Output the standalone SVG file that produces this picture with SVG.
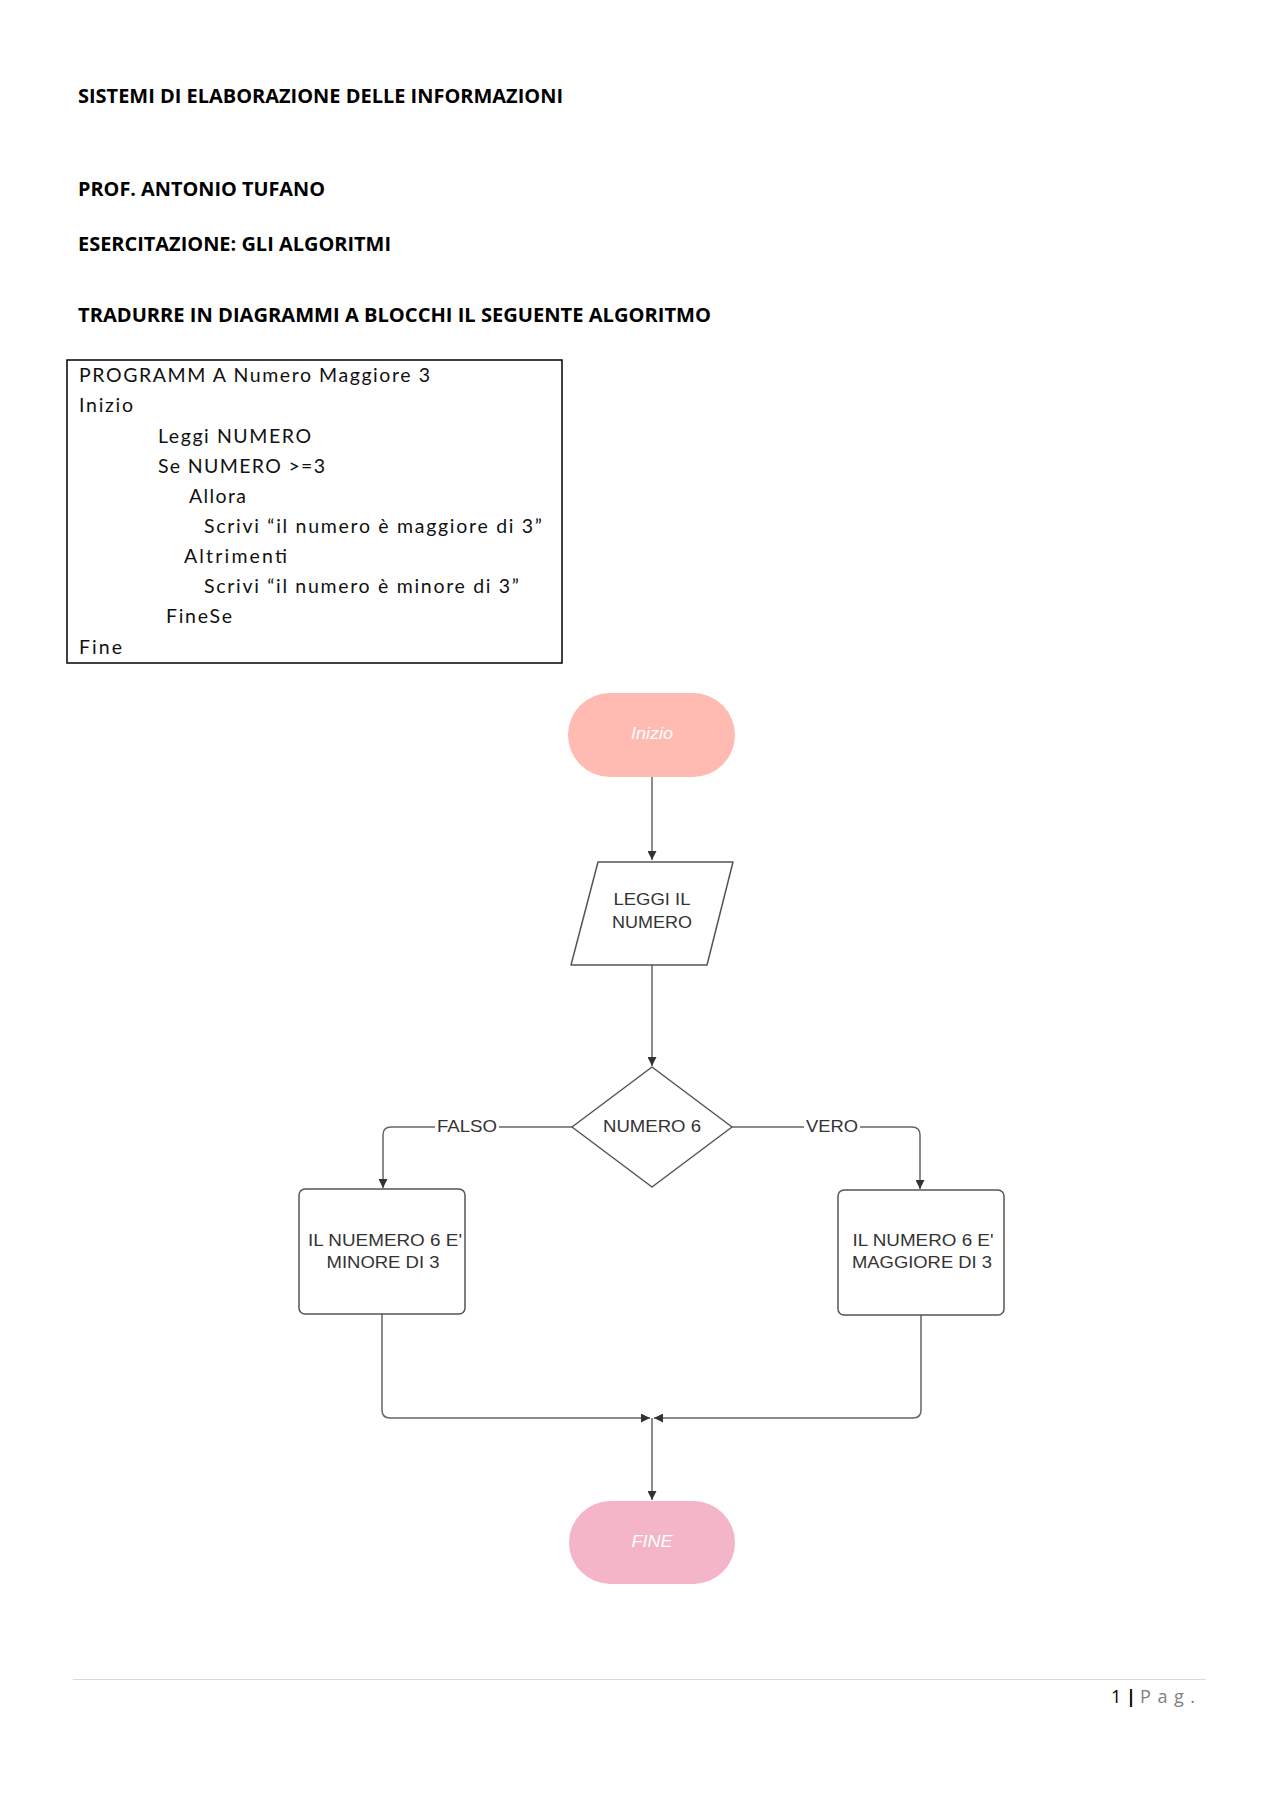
<svg xmlns="http://www.w3.org/2000/svg" width="1280" height="1811" viewBox="0 0 1280 1811">
<defs>
<style>
.h{font-family:"Open Sans","Liberation Sans",sans-serif;font-weight:bold;font-size:19px;fill:#000}
.c{font-family:"Lato","Open Sans",sans-serif;font-size:19.5px;fill:#111}
.f{font-family:"Liberation Sans",Arial,sans-serif;font-size:17px;fill:#333;text-anchor:middle}
.t{font-family:"Liberation Sans",Arial,sans-serif;font-size:17px;font-style:italic;fill:#fff;text-anchor:middle}
.shape{fill:#fff;stroke:#555;stroke-width:1.5;stroke-linejoin:round}
.conn{fill:none;stroke:#666;stroke-width:1.5}
.pg{font-family:"Open Sans","Liberation Sans",sans-serif;font-size:18px}
</style>
<marker id="arr" viewBox="0 0 10 10" refX="10" refY="5" markerWidth="14" markerHeight="9" markerUnits="userSpaceOnUse" orient="auto">
<path d="M0,0 L10,5 L0,10 Z" fill="#333"/>
</marker>
</defs>
<rect width="1280" height="1811" fill="#fff"/>

<g id="header">
<text class="h" x="78" y="103" textLength="485" lengthAdjust="spacingAndGlyphs">SISTEMI DI ELABORAZIONE DELLE INFORMAZIONI</text>
<text class="h" x="78" y="196" textLength="247" lengthAdjust="spacingAndGlyphs">PROF. ANTONIO TUFANO</text>
<text class="h" x="78" y="251" textLength="313" lengthAdjust="spacingAndGlyphs">ESERCITAZIONE: GLI ALGORITMI</text>
<text class="h" x="78" y="322" textLength="633" lengthAdjust="spacingAndGlyphs">TRADURRE IN DIAGRAMMI A BLOCCHI IL SEGUENTE ALGORITMO</text>
</g>

<g id="pseudocode">
<rect x="67" y="360" width="495" height="303" fill="#fff" stroke="#000" stroke-width="1.5"/>
<text class="c" x="79" y="382" textLength="351" lengthAdjust="spacing">PROGRAMM A Numero Maggiore 3</text>
<text class="c" x="79" y="412" textLength="54" lengthAdjust="spacing">Inizio</text>
<text class="c" x="158" y="443" textLength="153" lengthAdjust="spacing">Leggi NUMERO</text>
<text class="c" x="158" y="473" textLength="167" lengthAdjust="spacing">Se NUMERO &gt;=3</text>
<text class="c" x="189" y="503" textLength="57" lengthAdjust="spacing">Allora</text>
<text class="c" x="204" y="533" textLength="338" lengthAdjust="spacing">Scrivi “il numero è maggiore di 3”</text>
<text class="c" x="184" y="563" textLength="103" lengthAdjust="spacing">Altrimenti</text>
<text class="c" x="204" y="593" textLength="315" lengthAdjust="spacing">Scrivi “il numero è minore di 3”</text>
<text class="c" x="166" y="623" textLength="66" lengthAdjust="spacing">FineSe</text>
<text class="c" x="79" y="654" textLength="43" lengthAdjust="spacing">Fine</text>
</g>

<g id="connectors">
<path class="conn" d="M652,777 V860" stroke="#444" marker-end="url(#arr)"/>
<path class="conn" d="M652,965 V1066" marker-end="url(#arr)"/>
<path class="conn" d="M572,1127 H391 Q383,1127 383,1135 V1188" marker-end="url(#arr)"/>
<path class="conn" d="M732,1127 H912 Q920,1127 920,1135 V1189" marker-end="url(#arr)"/>
<path class="conn" d="M382,1314 V1410 Q382,1418 390,1418 H650" stroke="#888" stroke-width="2" marker-end="url(#arr)"/>
<path class="conn" d="M921,1315 V1410 Q921,1418 913,1418 H654" stroke="#888" stroke-width="2" marker-end="url(#arr)"/>
<path class="conn" d="M652,1418 V1500" stroke="#555" marker-end="url(#arr)"/>
<rect x="435" y="1117" width="64" height="20" fill="#fff"/>
<text class="f" x="467" y="1132" textLength="60" lengthAdjust="spacingAndGlyphs">FALSO</text>
<rect x="804" y="1117" width="56" height="20" fill="#fff"/>
<text class="f" x="832" y="1132" textLength="52" lengthAdjust="spacingAndGlyphs">VERO</text>
</g>

<g id="inizio">
<rect x="568" y="693" width="167" height="84" rx="42" fill="#FFBAB2"/>
<text class="t" x="652" y="739" textLength="42" lengthAdjust="spacingAndGlyphs">Inizio</text>
</g>

<g id="leggi">
<path class="shape" d="M598,862 H733 L707,965 H571 Z"/>
<text class="f" x="652" y="905" textLength="77" lengthAdjust="spacingAndGlyphs">LEGGI IL</text>
<text class="f" x="652" y="928" textLength="80" lengthAdjust="spacingAndGlyphs">NUMERO</text>
</g>

<g id="decisione">
<path class="shape" d="M652,1067 L732,1127 L652,1187 L572,1127 Z"/>
<text class="f" x="652" y="1132" textLength="98" lengthAdjust="spacingAndGlyphs">NUMERO 6</text>
</g>

<g id="minore">
<rect class="shape" x="299" y="1189" width="166" height="125" rx="6"/>
<text class="f" x="385" y="1246" textLength="154" lengthAdjust="spacingAndGlyphs">IL NUEMERO 6 E'</text>
<text class="f" x="383" y="1268" textLength="113" lengthAdjust="spacingAndGlyphs">MINORE DI 3</text>
</g>

<g id="maggiore">
<rect class="shape" x="838" y="1190" width="166" height="125" rx="6"/>
<text class="f" x="923" y="1246" textLength="141" lengthAdjust="spacingAndGlyphs">IL NUMERO 6 E'</text>
<text class="f" x="922" y="1268" textLength="140" lengthAdjust="spacingAndGlyphs">MAGGIORE DI 3</text>
</g>

<g id="fine">
<rect x="569" y="1501" width="166" height="83" rx="41.5" fill="#F4B5C8"/>
<text class="t" x="652" y="1547" textLength="41" lengthAdjust="spacingAndGlyphs">FINE</text>
</g>

<g id="footer">
<line x1="73" y1="1679.5" x2="1206" y2="1679.5" stroke="#d9d9d9" stroke-width="1"/>
<text class="pg" x="1111" y="1703" fill="#000">1</text>
<text class="pg" x="1126" y="1703" fill="#000" font-weight="bold">|</text>
<text class="pg" x="1140" y="1703" fill="#808080" textLength="55" lengthAdjust="spacing">P a g .</text>
</g>
</svg>
